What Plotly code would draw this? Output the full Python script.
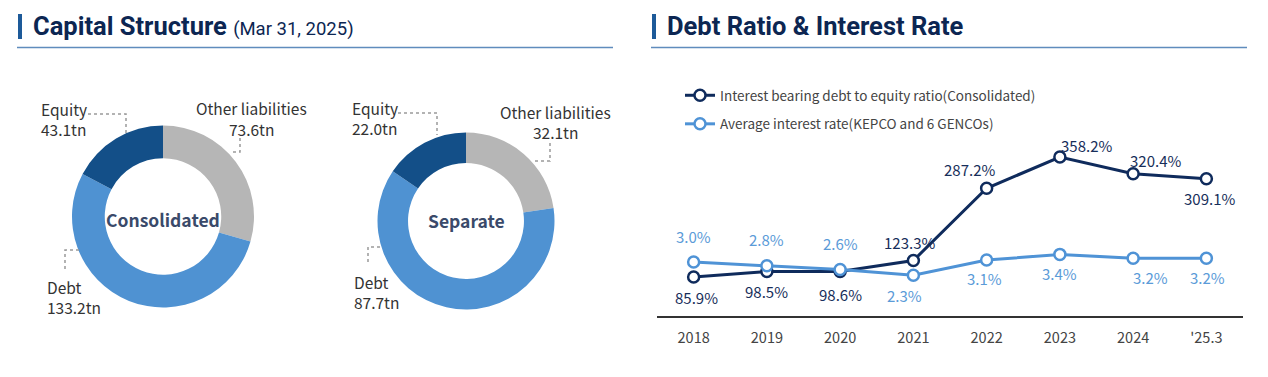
import plotly.graph_objects as go

W, H = 1268, 377

def px(x):
    return x / W

def py(y):
    return 1 - y / H

# ---------------- data ----------------
pie_labels = ["Other liabilities", "Debt", "Equity"]
consolidated_values = [73.6, 133.2, 43.1]
separate_values = [32.1, 87.7, 22.0]
pie_colors = ["#b6b6b6", "#4f92d2", "#134f88"]

years = ["2018", "2019", "2020", "2021", "2022", "2023", "2024", "'25.3"]
debt_ratio = [85.9, 98.5, 98.6, 123.3, 287.2, 358.2, 320.4, 309.1]
interest_rate = [3.0, 2.8, 2.6, 2.3, 3.1, 3.4, 3.2, 3.2]

# label offsets (px) for data labels: (dx, dy_down)
debt_offsets = [(3, 20), (0, 20), (0, 23), (-4, -18), (-17, -19), (27, -12), (22, -13), (3, 20)]
rate_offsets = [(0, -26), (0, -26), (0, -26), (-9, 20), (-2, 18), (0, 19), (17, 19), (1, 19)]

DARK = "#0f2b5c"
LIGHT = "#4f93d6"
TXT = "Noto Sans CJK KR"

fig = go.Figure()

# ---------------- donuts ----------------
fig.add_trace(go.Pie(
    labels=pie_labels, values=consolidated_values, sort=False,
    direction="clockwise", rotation=0, hole=0.64,
    marker=dict(colors=pie_colors, line=dict(width=0)),
    textinfo="none", hoverinfo="none", showlegend=False,
    domain=dict(x=[px(72), px(254)], y=[py(307.5), py(125.5)]),
))
fig.add_trace(go.Pie(
    labels=pie_labels, values=separate_values, sort=False,
    direction="clockwise", rotation=0, hole=0.655,
    marker=dict(colors=pie_colors, line=dict(width=0)),
    textinfo="none", hoverinfo="none", showlegend=False,
    domain=dict(x=[px(377.5), px(554.5)], y=[py(309.5), py(132.5)]),
))

# ---------------- lines ----------------
fig.add_trace(go.Scatter(
    x=years, y=debt_ratio, mode="lines+markers",
    name="Interest bearing debt to equity ratio(Consolidated)",
    line=dict(color=DARK, width=3),
    marker=dict(symbol="circle", size=11, color="white", line=dict(color=DARK, width=2.5)),
    legendgroup="a", cliponaxis=False, hoverinfo="skip",
))
fig.add_trace(go.Scatter(
    x=years, y=interest_rate, mode="lines+markers", yaxis="y2",
    name="Average interest rate(KEPCO and 6 GENCOs)",
    line=dict(color=LIGHT, width=3),
    marker=dict(symbol="circle", size=11, color="white", line=dict(color=LIGHT, width=2.5)),
    legendgroup="b", cliponaxis=False, hoverinfo="skip",
))

annotations = []
for i, (v, (dx, dy)) in enumerate(zip(debt_ratio, debt_offsets)):
    annotations.append(dict(
        x=i, y=v, xref="x", yref="y", text=f"{v:.1f}%", showarrow=False,
        xanchor="center", yanchor="middle",
        xshift=dx, yshift=-dy, font=dict(family=TXT, size=15, color="#172e5a"),
    ))
for i, (v, (dx, dy)) in enumerate(zip(interest_rate, rate_offsets)):
    annotations.append(dict(
        x=i, y=v, xref="x", yref="y2", text=f"{v:.1f}%", showarrow=False,
        xanchor="center", yanchor="middle",
        xshift=dx, yshift=-dy, font=dict(family=TXT, size=15, color="#5b9bd8"),
    ))

# ---------------- titles ----------------
annotations.append(dict(
    x=px(31), y=py(26), xref="paper", yref="paper", xanchor="left", yanchor="middle",
    showarrow=False,
    text="<b>Capital Structure</b> <span style='font-size:18.5px'>(Mar 31, 2025)</span>",
    font=dict(family="Roboto", size=25.5, color="#0c2652"),
))
annotations.append(dict(
    x=px(665), y=py(26), xref="paper", yref="paper", xanchor="left", yanchor="middle",
    showarrow=False, text="<b>Debt Ratio & Interest Rate</b>",
    font=dict(family="Roboto", size=25.5, color="#0c2652"),
))

# ---------------- donut texts ----------------
center_font = dict(family=TXT, size=17.5, color="#3a4a6a", weight=700)
annotations.append(dict(x=px(163), y=py(219), xref="paper", yref="paper", showarrow=False,
                        xanchor="center", yanchor="middle",
                        text="Consolidated", font=center_font))
annotations.append(dict(x=px(466), y=py(220), xref="paper", yref="paper", showarrow=False,
                        xanchor="center", yanchor="middle",
                        text="Separate", font=center_font))

lab_font = dict(family=TXT, size=15.5, color="#333333")
# (x, y of first line, anchor, name, value)
pie_text = [
    (39, 109, "left", pie_labels[2], consolidated_values[2]),
    (251.5, 108.5, "center", pie_labels[0], consolidated_values[0]),
    (45, 287, "left", pie_labels[1], consolidated_values[1]),
    (350, 108, "left", pie_labels[2], separate_values[2]),
    (555, 112, "center", pie_labels[0], separate_values[0]),
    (352, 282, "left", pie_labels[1], separate_values[1]),
]
for x, y, anc, name, val in pie_text:
    annotations.append(dict(x=px(x), y=py(y), xref="paper", yref="paper", xanchor=anc,
                            yanchor="middle", showarrow=False, text=name, font=lab_font))
    annotations.append(dict(x=px(x), y=py(y + 20), xref="paper", yref="paper", xanchor=anc,
                            yanchor="middle", showarrow=False, text=f"{val:.1f}tn", font=lab_font))

# ---------------- shapes ----------------
shapes = []
for x0 in (18, 652):
    shapes.append(dict(type="rect", xref="paper", yref="paper", x0=px(x0), x1=px(x0 + 4),
                       y0=py(39), y1=py(14), fillcolor="#1d5a99", line=dict(width=0)))
for x0, x1 in ((17, 613), (651, 1247)):
    shapes.append(dict(type="line", xref="paper", yref="paper", x0=px(x0), x1=px(x1),
                       y0=py(47.5), y1=py(47.5), line=dict(color="#5f8cbd", width=1.5)))

leaders = [
    [(88, 114), (126, 114), (126, 133)],
    [(240, 138), (240, 152), (230, 152)],
    [(79, 250), (65, 250), (65, 270)],
    [(398, 113), (437, 113), (437, 135)],
    [(550, 143), (550, 161), (533, 161)],
    [(380, 247), (368, 247), (368, 265)],
]
for pts in leaders:
    path = "M " + " L ".join(f"{px(a):.5f},{py(b):.5f}" for a, b in pts)
    shapes.append(dict(type="path", xref="paper", yref="paper", path=path,
                       line=dict(color="#9a9a9a", width=1.5, dash="dot")))

fig.update_layout(
    width=W, height=H,
    margin=dict(l=0, r=0, t=0, b=0),
    paper_bgcolor="white", plot_bgcolor="white",
    font=dict(family=TXT, color="#444"),
    xaxis=dict(domain=[px(657), px(1243)], range=[-0.5, 7.5], type="category",
               showgrid=False, zeroline=False, showline=True, linecolor="#333", linewidth=1.5,
               ticks="", tickfont=dict(family=TXT, size=14.5, color="#444"),
               ticklabelstandoff=8, fixedrange=True),
    yaxis=dict(domain=[py(316), py(140)], range=[-2.6, 396.8], visible=False, fixedrange=True),
    yaxis2=dict(overlaying="y", range=[0.158, 9.42], visible=False, fixedrange=True),
    showlegend=True,
    legend=dict(x=px(680), y=py(80), xanchor="left", yanchor="top",
                font=dict(family=TXT, size=13.5, color="#444"), tracegroupgap=8,
                bgcolor="rgba(0,0,0,0)", itemclick=False, itemdoubleclick=False),
    annotations=annotations,
    shapes=shapes,
)

fig.write_html("out.html", config={"displayModeBar": False},
               post_script="document.body.style.margin='0px';")
